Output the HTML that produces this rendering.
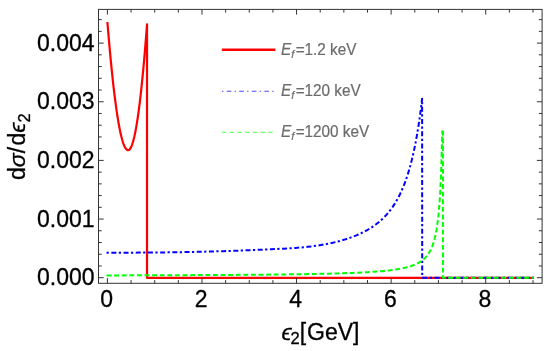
<!DOCTYPE html>
<html><head><meta charset="utf-8"><title>plot</title>
<style>
html,body{margin:0;padding:0;background:#fff}
svg{display:block}
text{font-family:"Liberation Sans",Arial,Helvetica,sans-serif}
.ax text{font-size:23px;fill:#000;stroke:#000;stroke-width:0.3px}
.lg text{font-size:15.3px;fill:#6c6c6c;stroke:#6c6c6c;stroke-width:0.2px}
</style></head><body>
<svg width="550" height="351" viewBox="0 0 550 351">
<rect width="550" height="351" fill="#fff"/>
<g fill="none" stroke-linejoin="round">
<path d="M107.40,21.99 L108.07,30.15 L108.74,38.04 L109.41,45.66 L110.08,53.02 L110.75,60.11 L111.42,66.93 L112.09,73.48 L112.76,79.76 L113.43,85.77 L114.10,91.52 L114.77,97.00 L115.44,102.21 L116.11,107.15 L116.78,111.82 L117.45,116.22 L118.12,120.36 L118.79,124.23 L119.46,127.83 L120.13,131.16 L120.80,134.22 L121.47,137.01 L122.14,139.54 L122.81,141.80 L123.48,143.79 L124.15,145.51 L124.82,146.96 L125.49,148.14 L126.16,149.06 L126.83,149.70 L127.50,150.08 L128.17,150.19 L128.84,150.01 L129.51,149.51 L130.18,148.69 L130.85,147.55 L131.52,146.11 L132.19,144.34 L132.86,142.26 L133.53,139.86 L134.20,137.15 L134.87,134.12 L135.54,130.78 L136.21,127.12 L136.88,123.14 L137.55,118.85 L138.22,114.24 L138.89,109.31 L139.56,104.07 L140.23,98.52 L140.90,92.65 L141.57,86.46 L142.24,79.96 L142.91,73.14 L143.58,66.00 L144.25,58.55 L144.92,50.78 L145.59,42.70 L146.26,34.30 L146.93,25.59 L147.03,24.33 L147.03,277.82 L533.96,277.82" stroke="#f00" stroke-width="2.2"/>
<path d="M106.55,252.64 L110.57,252.65 L114.59,252.66 L118.61,252.67 L122.64,252.67 L126.66,252.66 L130.68,252.65 L134.70,252.63 L138.73,252.62 L142.75,252.59 L146.77,252.56 L150.79,252.53 L154.81,252.49 L158.84,252.45 L162.86,252.41 L166.88,252.36 L170.90,252.30 L174.92,252.24 L178.95,252.18 L182.97,252.11 L186.99,252.04 L191.01,251.96 L195.03,251.88 L199.06,251.79 L203.08,251.70 L207.10,251.60 L211.12,251.50 L215.14,251.39 L219.17,251.27 L223.19,251.15 L227.21,251.02 L231.23,250.89 L235.25,250.75 L239.28,250.60 L243.30,250.45 L247.32,250.29 L251.34,250.13 L255.36,249.97 L259.39,249.80 L263.41,249.62 L267.43,249.44 L271.45,249.26 L275.48,249.07 L279.50,248.87 L283.52,248.65 L287.54,248.42 L291.56,248.17 L295.59,247.89 L299.61,247.58 L303.63,247.22 L307.65,246.82 L311.67,246.36 L315.70,245.83 L319.72,245.23 L323.74,244.56 L327.76,243.80 L331.78,242.95 L335.81,242.01 L339.83,240.96 L343.85,239.80 L344.51,239.60 L345.17,239.40 L345.82,239.19 L346.48,238.98 L347.14,238.76 L347.80,238.54 L348.45,238.32 L349.11,238.10 L349.77,237.87 L350.43,237.63 L351.08,237.40 L351.74,237.15 L352.40,236.91 L353.06,236.66 L353.72,236.41 L354.37,236.15 L355.03,235.89 L355.69,235.62 L356.35,235.35 L357.00,235.07 L357.66,234.79 L358.32,234.50 L358.98,234.21 L359.63,233.91 L360.29,233.61 L360.95,233.30 L361.61,232.99 L362.27,232.67 L362.92,232.35 L363.58,232.01 L364.24,231.68 L364.90,231.33 L365.55,230.98 L366.21,230.62 L366.87,230.26 L367.53,229.89 L368.18,229.51 L368.84,229.12 L369.50,228.72 L370.16,228.32 L370.82,227.91 L371.47,227.49 L372.13,227.06 L372.79,226.62 L373.45,226.17 L374.10,225.71 L374.76,225.24 L375.42,224.76 L376.08,224.27 L376.73,223.77 L377.39,223.26 L378.05,222.73 L378.71,222.20 L379.37,221.64 L380.02,221.08 L380.68,220.50 L381.34,219.91 L382.00,219.31 L382.65,218.68 L383.31,218.05 L383.97,217.39 L384.63,216.72 L385.28,216.03 L385.94,215.33 L386.60,214.60 L387.26,213.85 L387.92,213.09 L388.57,212.30 L389.23,211.49 L389.89,210.66 L390.55,209.80 L391.20,208.92 L391.86,208.02 L392.52,207.08 L393.18,206.12 L393.83,205.13 L394.49,204.11 L395.15,203.06 L395.81,201.98 L396.47,200.86 L397.12,199.70 L397.78,198.51 L398.44,197.28 L399.10,196.01 L399.75,194.69 L400.41,193.34 L401.07,191.93 L401.73,190.47 L402.38,188.97 L403.04,187.41 L403.70,185.79 L404.36,184.12 L405.02,182.38 L405.67,180.58 L406.33,178.71 L406.99,176.77 L407.65,174.75 L408.30,172.65 L408.96,170.47 L409.62,168.20 L410.28,165.83 L410.93,163.37 L411.59,160.80 L412.25,158.12 L412.91,155.33 L413.56,152.40 L414.22,149.35 L414.88,146.16 L415.54,142.82 L416.20,139.32 L416.85,135.65 L417.51,131.80 L418.17,127.76 L418.83,123.51 L419.48,119.05 L420.14,114.35 L420.80,109.40 L421.46,104.18 L422.11,98.67 L422.21,277.70 L533.96,277.70" stroke="#00f" stroke-width="2" stroke-dasharray="2.25 2.55 5 2.4"/>
<path d="M106.55,275.42 L111.37,275.41 L116.20,275.40 L121.02,275.38 L125.84,275.37 L130.67,275.36 L135.49,275.34 L140.31,275.33 L145.14,275.31 L149.96,275.29 L154.78,275.28 L159.61,275.26 L164.43,275.24 L169.26,275.22 L174.08,275.21 L178.90,275.19 L183.73,275.16 L188.55,275.14 L193.37,275.12 L198.20,275.10 L203.02,275.07 L207.84,275.05 L212.67,275.02 L217.49,274.99 L222.31,274.96 L227.14,274.93 L231.96,274.90 L236.79,274.87 L241.61,274.83 L246.43,274.80 L251.26,274.76 L256.08,274.72 L260.90,274.67 L265.73,274.63 L270.55,274.58 L275.37,274.53 L280.20,274.47 L285.02,274.41 L289.84,274.35 L294.67,274.28 L299.49,274.21 L304.32,274.14 L309.14,274.05 L313.96,273.97 L318.79,273.87 L323.61,273.77 L328.43,273.65 L333.26,273.53 L338.08,273.39 L342.90,273.25 L347.73,273.08 L352.55,272.90 L357.37,272.69 L362.20,272.46 L367.02,272.20 L371.85,271.90 L376.67,271.56 L381.49,271.17 L386.32,270.70 L391.14,270.14 L391.46,270.10 L391.79,270.06 L392.11,270.02 L392.44,269.98 L392.76,269.93 L393.09,269.89 L393.41,269.85 L393.73,269.80 L394.06,269.75 L394.38,269.71 L394.71,269.66 L395.03,269.61 L395.35,269.57 L395.68,269.52 L396.00,269.47 L396.33,269.42 L396.65,269.37 L396.98,269.31 L397.30,269.26 L397.62,269.21 L397.95,269.15 L398.27,269.10 L398.60,269.04 L398.92,268.99 L399.24,268.93 L399.57,268.87 L399.89,268.81 L400.22,268.75 L400.54,268.69 L400.87,268.63 L401.19,268.57 L401.51,268.50 L401.84,268.44 L402.16,268.37 L402.49,268.31 L402.81,268.24 L403.14,268.17 L403.46,268.10 L403.78,268.03 L404.11,267.96 L404.43,267.88 L404.76,267.81 L405.08,267.73 L405.40,267.65 L405.73,267.57 L406.05,267.49 L406.38,267.41 L406.70,267.33 L407.03,267.24 L407.35,267.16 L407.67,267.07 L408.00,266.98 L408.32,266.89 L408.65,266.80 L408.97,266.70 L409.29,266.61 L409.62,266.51 L409.94,266.41 L410.27,266.31 L410.59,266.20 L410.92,266.09 L411.24,265.99 L411.56,265.88 L411.89,265.76 L412.21,265.65 L412.54,265.53 L412.86,265.41 L413.18,265.29 L413.51,265.16 L413.83,265.03 L414.16,264.90 L414.48,264.77 L414.81,264.63 L415.13,264.49 L415.45,264.35 L415.78,264.20 L416.10,264.05 L416.43,263.90 L416.75,263.74 L417.08,263.58 L417.40,263.41 L417.72,263.24 L418.05,263.07 L418.37,262.89 L418.70,262.71 L419.02,262.52 L419.34,262.33 L419.67,262.13 L419.99,261.93 L420.32,261.72 L420.64,261.51 L420.97,261.29 L421.29,261.06 L421.61,260.83 L421.94,260.59 L422.26,260.34 L422.59,260.09 L422.91,259.82 L423.23,259.55 L423.56,259.27 L423.88,258.99 L424.21,258.69 L424.53,258.38 L424.86,258.06 L425.18,257.74 L425.50,257.40 L425.83,257.04 L426.15,256.68 L426.48,256.30 L426.80,255.91 L427.13,255.51 L427.45,255.08 L427.77,254.65 L428.10,254.19 L428.42,253.72 L428.75,253.22 L429.07,252.71 L429.39,252.17 L429.72,251.61 L430.04,251.03 L430.37,250.41 L430.69,249.77 L431.02,249.10 L431.34,248.40 L431.66,247.66 L431.99,246.88 L432.31,246.06 L432.64,245.20 L432.96,244.29 L433.28,243.33 L433.61,242.31 L433.93,241.23 L434.26,240.09 L434.58,238.87 L434.91,237.58 L435.23,236.19 L435.55,234.71 L435.88,233.13 L436.20,231.42 L436.53,229.59 L436.85,227.60 L437.17,225.46 L437.50,223.12 L437.82,220.58 L438.15,217.80 L438.47,214.74 L438.80,211.37 L439.12,207.63 L439.44,203.47 L439.77,198.81 L440.09,193.54 L440.42,187.57 L440.74,180.72 L441.07,172.81 L441.39,163.57 L441.71,152.65 L442.04,139.54 L442.36,131.07 L442.69,131.07" stroke="#0f0" stroke-width="2" stroke-dasharray="4.9 2.7"/>
<path d="M442.92,131.07 L442.92,277.70 L533.96,277.70" stroke="#0f0" stroke-width="2" stroke-dasharray="4.9 2.7" stroke-dashoffset="0.18"/>
</g>
<g fill="none" stroke="#333" stroke-width="1">
<rect x="98.5" y="9.4" width="443.6" height="273.90000000000003"/>
<path d="M107.40,283.3v-5.2 M107.40,9.4v5.2 M131.05,283.3v-3.2 M131.05,9.4v3.2 M154.69,283.3v-3.2 M154.69,9.4v3.2 M178.34,283.3v-3.2 M178.34,9.4v3.2 M201.98,283.3v-5.2 M201.98,9.4v5.2 M225.62,283.3v-3.2 M225.62,9.4v3.2 M249.27,283.3v-3.2 M249.27,9.4v3.2 M272.91,283.3v-3.2 M272.91,9.4v3.2 M296.56,283.3v-5.2 M296.56,9.4v5.2 M320.21,283.3v-3.2 M320.21,9.4v3.2 M343.85,283.3v-3.2 M343.85,9.4v3.2 M367.50,283.3v-3.2 M367.50,9.4v3.2 M391.14,283.3v-5.2 M391.14,9.4v5.2 M414.78,283.3v-3.2 M414.78,9.4v3.2 M438.43,283.3v-3.2 M438.43,9.4v3.2 M462.08,283.3v-3.2 M462.08,9.4v3.2 M485.72,283.3v-5.2 M485.72,9.4v5.2 M509.37,283.3v-3.2 M509.37,9.4v3.2 M533.01,283.3v-3.2 M533.01,9.4v3.2 M98.5,277.70h5.2 M542.1,277.70h-5.2 M98.5,265.97h3.2 M542.1,265.97h-3.2 M98.5,254.24h3.2 M542.1,254.24h-3.2 M98.5,242.51h3.2 M542.1,242.51h-3.2 M98.5,230.78h3.2 M542.1,230.78h-3.2 M98.5,219.05h5.2 M542.1,219.05h-5.2 M98.5,207.32h3.2 M542.1,207.32h-3.2 M98.5,195.59h3.2 M542.1,195.59h-3.2 M98.5,183.86h3.2 M542.1,183.86h-3.2 M98.5,172.13h3.2 M542.1,172.13h-3.2 M98.5,160.40h5.2 M542.1,160.40h-5.2 M98.5,148.67h3.2 M542.1,148.67h-3.2 M98.5,136.94h3.2 M542.1,136.94h-3.2 M98.5,125.21h3.2 M542.1,125.21h-3.2 M98.5,113.48h3.2 M542.1,113.48h-3.2 M98.5,101.75h5.2 M542.1,101.75h-5.2 M98.5,90.02h3.2 M542.1,90.02h-3.2 M98.5,78.29h3.2 M542.1,78.29h-3.2 M98.5,66.56h3.2 M542.1,66.56h-3.2 M98.5,54.83h3.2 M542.1,54.83h-3.2 M98.5,43.10h5.2 M542.1,43.10h-5.2 M98.5,31.37h3.2 M542.1,31.37h-3.2 M98.5,19.64h3.2 M542.1,19.64h-3.2"/>
</g>
<g class="ax">
<text x="106.60" y="307" text-anchor="middle">0</text><text x="201.18" y="307" text-anchor="middle">2</text><text x="295.76" y="307" text-anchor="middle">4</text><text x="390.34" y="307" text-anchor="middle">6</text><text x="484.92" y="307" text-anchor="middle">8</text>
<text x="94.6" y="285.40" text-anchor="end">0.000</text><text x="94.6" y="226.75" text-anchor="end">0.001</text><text x="94.6" y="168.10" text-anchor="end">0.002</text><text x="94.6" y="109.45" text-anchor="end">0.003</text><text x="94.6" y="50.80" text-anchor="end">0.004</text>
<text transform="translate(25.4,180) rotate(-90)">d<tspan font-style="italic">σ</tspan>/<tspan dx="1.4">d</tspan><tspan font-style="italic">ϵ</tspan><tspan font-size="16.5px" dy="4.8">2</tspan></text>
<text x="281.6" y="339.6"><tspan font-style="italic">ϵ</tspan><tspan font-size="16.5px" dx="-1.2" dy="4.8">2</tspan><tspan dy="-4.8">[</tspan><tspan dx="0.9">GeV]</tspan></text>
</g>
<g class="lg">
<path d="M221.8,49.8H275.4" stroke="#f00" stroke-width="2.4" fill="none"/>
<path d="M222,91.3H274" stroke="#4a4aff" stroke-width="1.1" fill="none" stroke-dasharray="1.4 3.3 4.6 3.25"/>
<path d="M222,132.3H273" stroke="#4aff4a" stroke-width="1.1" fill="none" stroke-dasharray="4.4 3.3"/>
<text transform="translate(281,55.3) scale(1,1.05)"><tspan font-style="italic">E</tspan><tspan font-style="italic" font-size="11px" dy="2.7">f</tspan><tspan dx="1.4" dy="-2.7">=1.2 keV</tspan></text>
<text transform="translate(281,96.3) scale(1,1.05)"><tspan font-style="italic">E</tspan><tspan font-style="italic" font-size="11px" dy="2.7">f</tspan><tspan dx="1.4" dy="-2.7">=120 keV</tspan></text>
<text transform="translate(281,137.3) scale(1,1.05)"><tspan font-style="italic">E</tspan><tspan font-style="italic" font-size="11px" dy="2.7">f</tspan><tspan dx="1.4" dy="-2.7">=1200 keV</tspan></text>
</g>
</svg>
</body></html>
